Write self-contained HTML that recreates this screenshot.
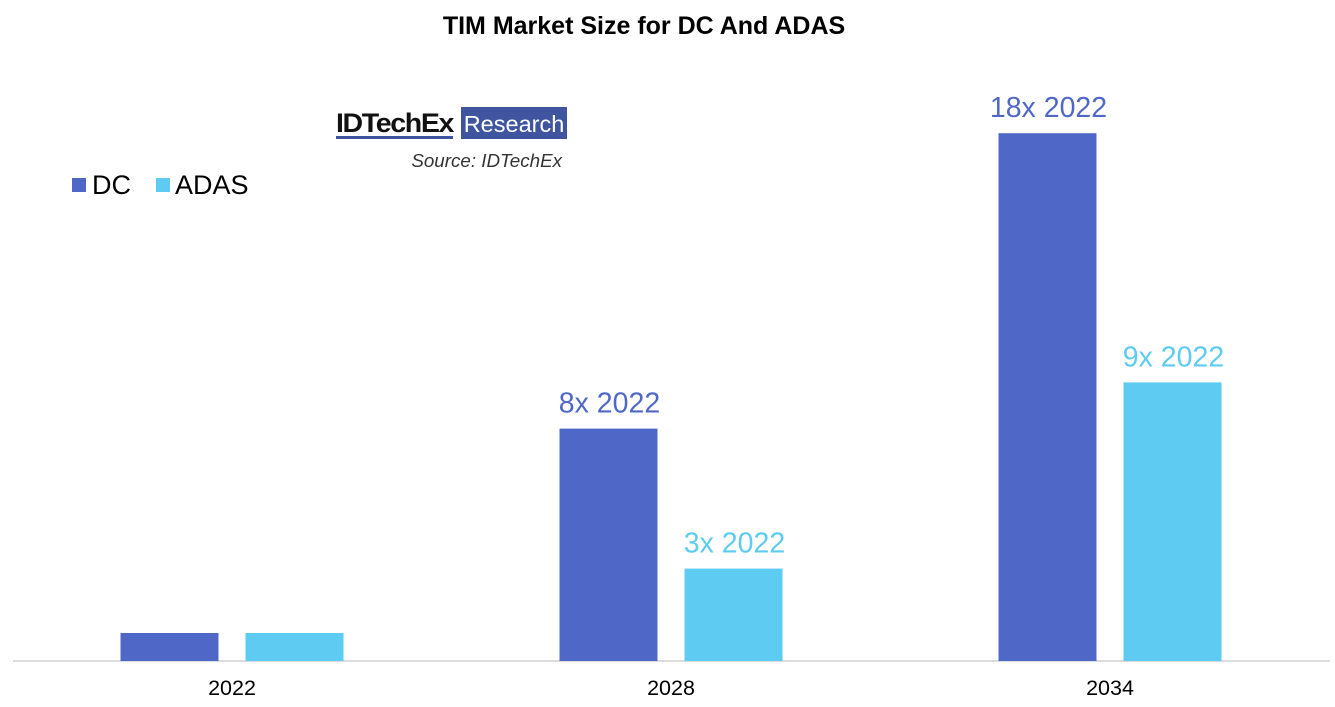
<!DOCTYPE html>
<html><head><meta charset="utf-8"><style>
html,body{margin:0;padding:0;background:#fff;}
body{width:1335px;height:702px;overflow:hidden;font-family:"Liberation Sans",Arial,sans-serif;}
</style></head><body>
<svg id="chart" width="1335" height="702" xmlns="http://www.w3.org/2000/svg" font-family="Liberation Sans, Arial, sans-serif">
<text x="644" y="34" text-anchor="middle" font-size="25" font-weight="bold" fill="#000">TIM Market Size for DC And ADAS</text>
<g>
<text x="336" y="132" font-size="27" font-weight="bold" fill="#111" letter-spacing="-1.3" textLength="117" lengthAdjust="spacingAndGlyphs">IDTechEx</text>
<rect x="336" y="136" width="117" height="3" fill="#3f55a0"/>
<rect x="461" y="107" width="106" height="32" fill="#3f55a0"/>
<text x="514" y="132" text-anchor="middle" font-size="23.5" fill="#fff">Research</text>
</g>
<text x="562" y="167" text-anchor="end" font-size="18.8" font-style="italic" fill="#333">Source: IDTechEx</text>
<g>
<rect x="72" y="178" width="14" height="14" fill="#4f68c8"/>
<text x="92" y="194" font-size="27" fill="#000">DC</text>
<rect x="156" y="178" width="14" height="14" fill="#5ecbf2"/>
<text x="175" y="194" font-size="27" fill="#000">ADAS</text>
</g>
<line x1="13" y1="661" x2="1330" y2="661" stroke="#d0d0d0" stroke-width="1.5"/>
<g id="bars"></g>
</svg>
<script>
const categories = ["2022", "2028", "2034"];
const dcValues = [1, 8.3, 18.85];
const adasValues = [1, 3.3, 9.95];
const dcLabels = ["", "8x 2022", "18x 2022"];
const adasLabels = ["", "3x 2022", "9x 2022"];

const baseY = 661, unitPx = 28, firstCenter = 232, step = 439, barW = 98, gap = 27;
const NS = "http://www.w3.org/2000/svg";
const g = document.getElementById("bars");
function yScale(v){ return baseY - v * unitPx; }
function xCenter(i){ return firstCenter + i * step; }
function mk(tag, attrs){ const e = document.createElementNS(NS, tag); for (const k in attrs) e.setAttribute(k, attrs[k]); return e; }
const series = [
  {vals: dcValues, labels: dcLabels, color: "#4f68c8", off: -(gap/2 + barW), key: "dc"},
  {vals: adasValues, labels: adasLabels, color: "#5ecbf2", off: gap/2, key: "adas"}
];
categories.forEach((c, i) => {
  series.forEach(s => {
    const x = xCenter(i) + s.off, y = yScale(s.vals[i]);
    const r = mk("rect", {x: x, y: y, width: barW, height: baseY - y, fill: s.color});
    
    
    g.appendChild(r);
    if (s.labels[i]) {
      const t = mk("text", {x: x + barW/2 + 1, y: y - 16, "text-anchor": "middle", "font-size": "28.5", fill: s.color});
      t.textContent = s.labels[i];
      
      
      g.appendChild(t);
    }
  });
  const t = mk("text", {x: xCenter(i), y: 695, "text-anchor": "middle", "font-size": "21.5", fill: "#000"});
  t.textContent = c;
  
  
  g.appendChild(t);
});
</script>
</body></html>
